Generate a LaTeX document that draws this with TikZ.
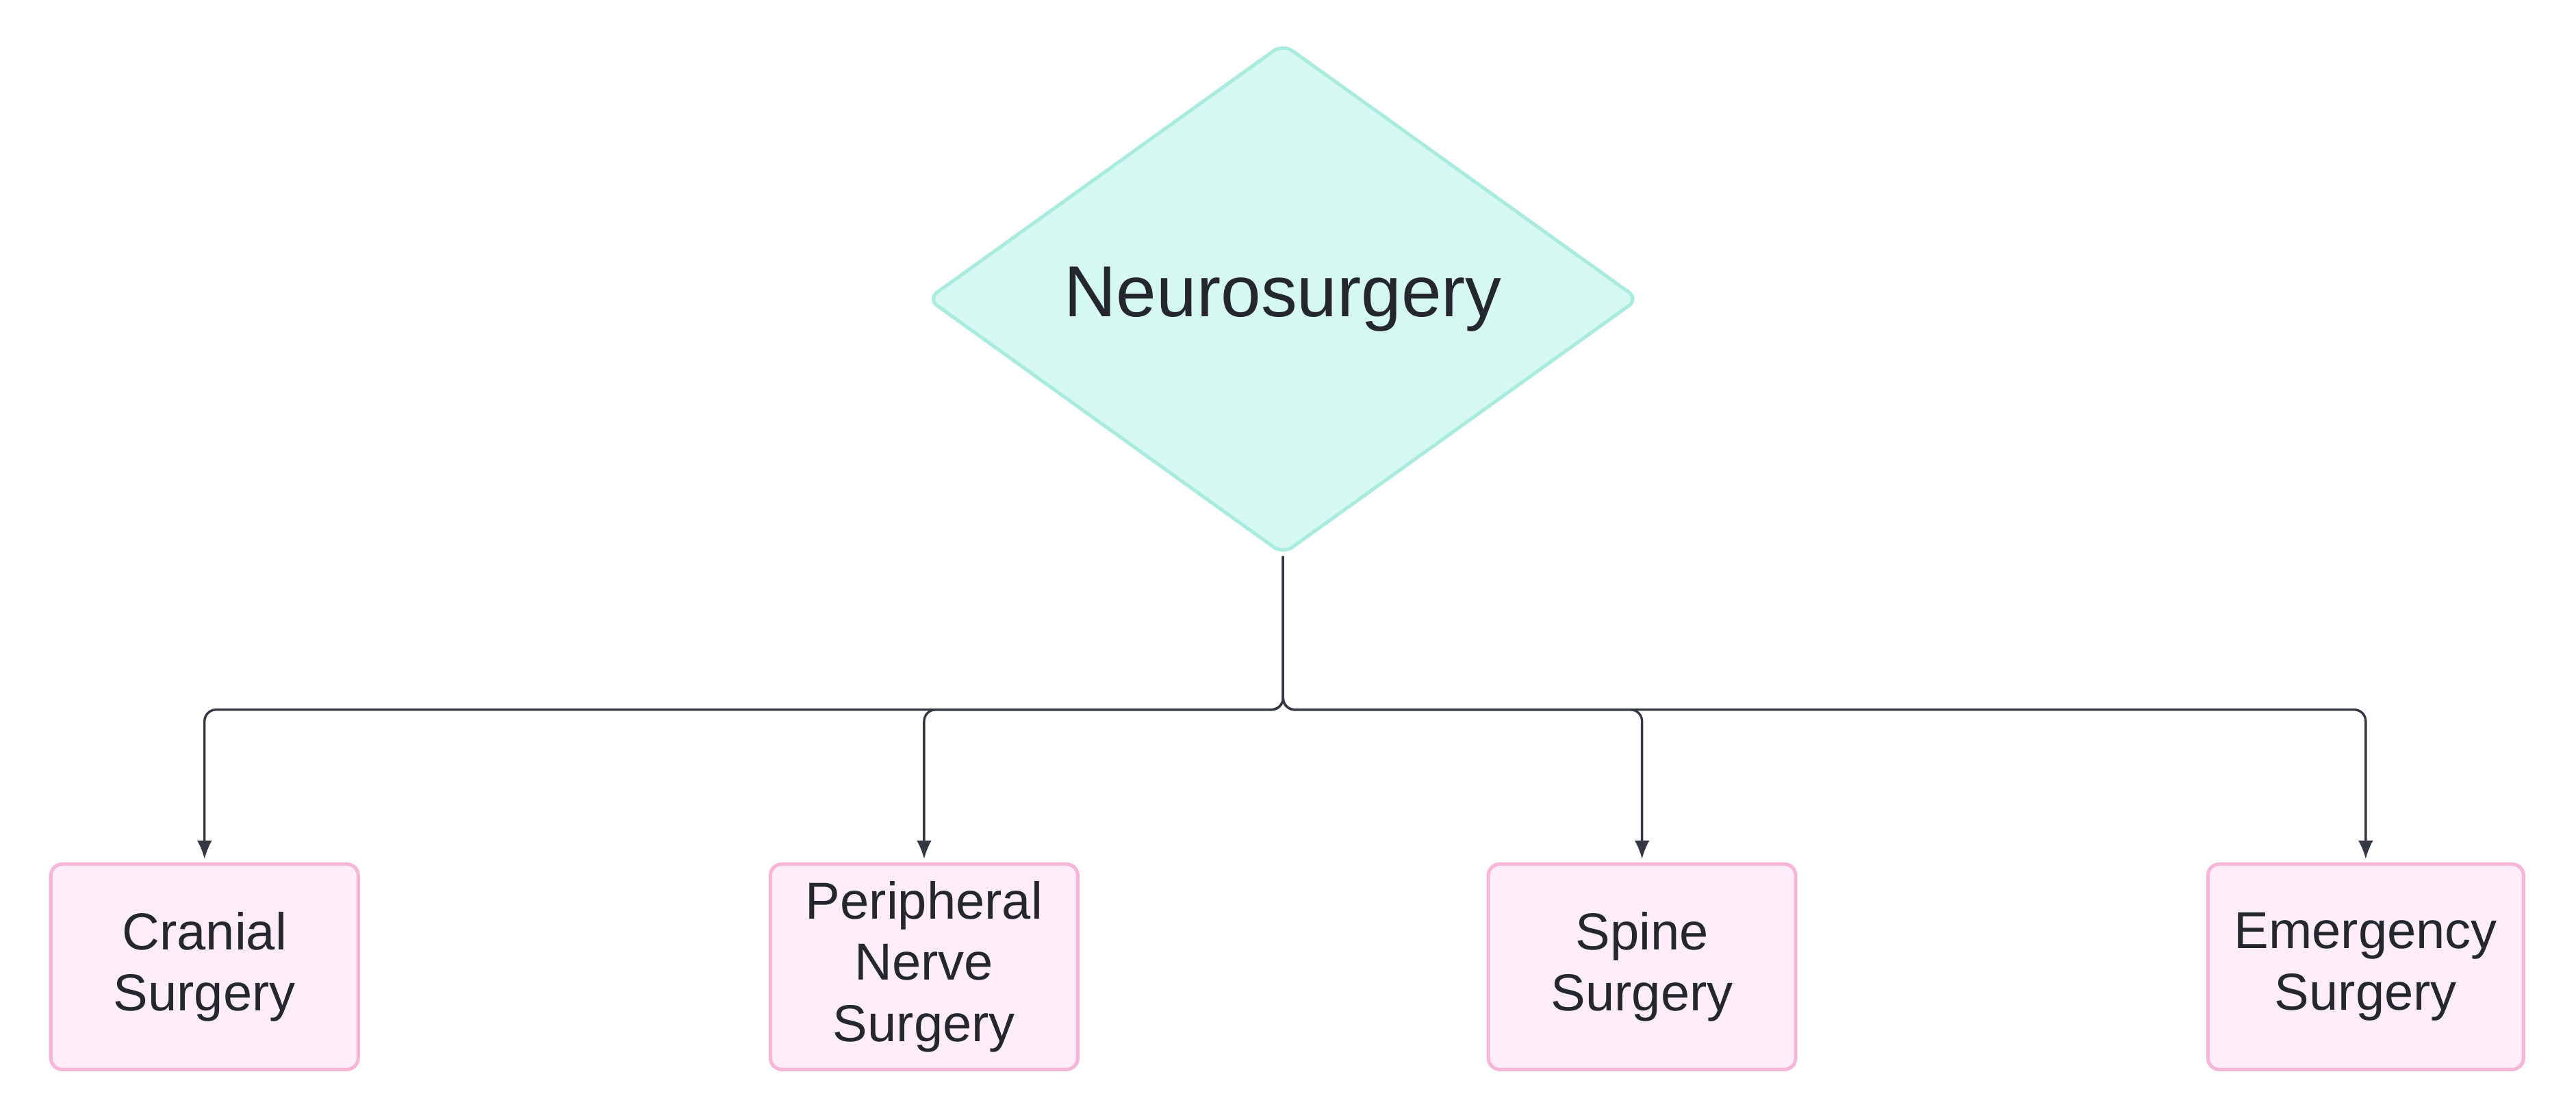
\documentclass[tikz,border=0pt]{standalone}
\usepackage{fontspec}
\setmainfont{Liberation Sans}
\usetikzlibrary{shapes.geometric,arrows.meta}
\definecolor{hubfill}{HTML}{D6F8F2}
\definecolor{hubline}{HTML}{A9EBDF}
\definecolor{leaffill}{HTML}{FFEEF9}
\definecolor{leafline}{HTML}{F7B6D8}
\definecolor{wire}{HTML}{333842}
\definecolor{ink}{HTML}{24272E}
\begin{document}
\begin{tikzpicture}[x=0.01cm, y=-0.01cm,
  hub/.style={diamond, draw=hubline, fill=hubfill, line width=0.6pt, rounded corners=2pt,
    minimum width=4.33cm, minimum height=3.11cm, inner sep=0pt, text=ink, font=\fontsize{12.5}{15}\selectfont},
  leaf/.style={rectangle, draw=leafline, fill=leaffill, line width=0.6pt, rounded corners=2pt,
    minimum height=1.25cm, text width=1.75cm, align=center, inner sep=0pt, text=ink,
    font=\fontsize{9}{10.6}\selectfont},
  link/.style={draw=wire, line width=0.4pt, rounded corners=2pt, -{Latex[length=3.2pt,width=2.6pt]}}]

\useasboundingbox (0,0) rectangle (1568,668);

% Top node
\node[hub] (neuro) at (781,182) {\raisebox{0pt}{Neurosurgery}};

% Branch point
\coordinate (split) at (781,432);

% Child nodes
\node[leaf, minimum width=1.87cm] (cranial) at (124.5,588.5) {Cranial\\Surgery};
\node[leaf, minimum width=1.87cm] (nerve) at (562.5,588.5) {Peripheral\\Nerve\\Surgery};
\node[leaf, minimum width=1.87cm] (spine) at (999.5,588.5) {Spine\\Surgery};
\node[leaf, minimum width=1.92cm] (emerg) at (1440,588.5) {Emergency\\Surgery};

% Connectors
\foreach \leaf in {cranial,nerve,spine,emerg} {
  \draw[link] (neuro.south) -- (split) -| ([yshift=0.02cm]\leaf.north);
}

\end{tikzpicture}
\end{document}
